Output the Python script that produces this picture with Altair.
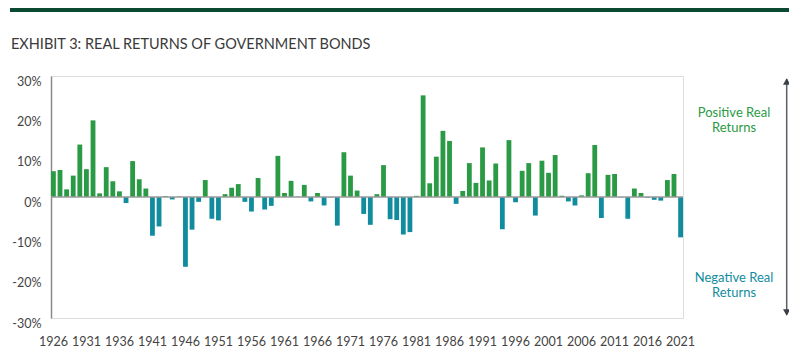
import altair as alt
import pandas as pd

years = list(range(1926, 2022))
returns = [
    6.4, 6.7, 1.9, 5.3, 13.0, 6.9, 19.0, 0.9, 7.4, 3.9,      # 1926-1935
    1.4, -1.5, 8.9, 4.4, 2.1, -9.6, -7.3, 0.2, -0.6, 0.1,    # 1936-1945
    -17.3, -8.1, -1.2, 4.2, -5.4, -5.8, 0.7, 2.3, 3.2, -1.2, # 1946-1955
    -3.6, 4.7, -3.1, -2.2, 10.2, 1.0, 4.0, 0.1, 3.0, -1.1,   # 1956-1965
    1.0, -2.1, -0.1, -7.1, 11.1, 5.3, 1.6, -4.2, -6.9, 0.7,  # 1966-1975
    7.9, -5.5, -5.7, -9.3, -8.7, 0.3, 25.2, 3.4, 10.0, 16.4, # 1976-1985
    13.9, -1.7, 1.5, 8.4, 3.5, 12.3, 4.1, 8.3, -8.0, 14.1,   # 1986-1995
    -1.3, 6.5, 8.4, -4.6, 9.0, 6.0, 10.4, 0.3, -1.1, -2.1,   # 1996-2005
    0.4, 5.9, 12.9, -5.2, 5.5, 5.7, -0.1, -5.4, 2.1, 1.0,    # 2006-2015
    -0.2, -0.7, -0.9, 4.2, 5.7, -10.0,                       # 2016-2021
]
label_years = list(range(1926, 2022, 5))
y_ticks = [-30, -20, -10, 0, 10, 20, 30]
title_text = "EXHIBIT 3: REAL RETURNS OF GOVERNMENT BONDS"
pos_text = ["Positive Real", "Returns"]
neg_text = ["Negative Real", "Returns"]

GREEN = "#2a9a44"
TEAL = "#118c9e"
FONT = "Lato"

df = pd.DataFrame({"year": years, "ret": returns})
df["sign"] = ["pos" if v >= 0 else "neg" for v in returns]

W, H = 632, 242

x_enc = alt.X(
    "year:O",
    scale=alt.Scale(paddingInner=0.27, paddingOuter=0),
    axis=alt.Axis(
        values=label_years, title=None, labelAngle=0, domain=False, ticks=False,
        labelPadding=17, labelFont=FONT, labelFontSize=12.5, labelColor="#444444",
    ),
)
y_scale = alt.Scale(domain=[-30, 30], nice=False)

bars = alt.Chart(df).mark_bar().encode(
    x=x_enc,
    y=alt.Y(
        "ret:Q",
        scale=y_scale,
        axis=alt.Axis(
            values=y_ticks, title=None, grid=False, ticks=False, domain=True,
            domainColor="#8a8a8a", domainWidth=1.5, labelPadding=10,
            labelOffset=5, labelFont=FONT, labelFontSize=12.5, labelColor="#444444",
            labelExpr="datum.value + '%'",
        ),
    ),
    y2=alt.datum(0),
    color=alt.Color(
        "sign:N",
        scale=alt.Scale(domain=["pos", "neg"], range=[GREEN, TEAL]),
        legend=None,
    ),
)

zero = alt.Chart(pd.DataFrame({"z": [0]})).mark_rule(
    color="#9a9a9a", strokeWidth=1.5
).encode(y=alt.Y("z:Q", scale=y_scale))

one = pd.DataFrame({"a": [0]})

top_rule = alt.Chart(one).mark_rule(color="#0b4a31", strokeWidth=4).encode(
    x=alt.value(-41), x2=alt.value(741), y=alt.value(-66)
)

title = alt.Chart(one).mark_text(
    text=title_text, align="left", baseline="middle", font=FONT,
    fontSize=14.5, color="#3a3a3a",
).encode(x=alt.value(-40), y=alt.value(-31))

arrow_line = alt.Chart(one).mark_rule(color="#5a5d63", strokeWidth=1.5).encode(
    x=alt.value(735.7), y=alt.value(3), y2=alt.value(239)
)
arrow_top = alt.Chart(one).mark_point(
    shape="triangle-up", filled=True, size=55, color="#3b3f48", opacity=1
).encode(x=alt.value(735.7), y=alt.value(5.5))
arrow_bot = alt.Chart(one).mark_point(
    shape="triangle-down", filled=True, size=55, color="#3b3f48", opacity=1
).encode(x=alt.value(735.7), y=alt.value(236.5))

pos_label = alt.Chart(one).mark_text(
    text=pos_text, align="center", baseline="alphabetic", font=FONT,
    fontSize=13, lineHeight=15.5, color=GREEN,
).encode(x=alt.value(683), y=alt.value(40.5))
neg_label = alt.Chart(one).mark_text(
    text=neg_text, align="center", baseline="alphabetic", font=FONT,
    fontSize=13, lineHeight=15.5, color=TEAL,
).encode(x=alt.value(683), y=alt.value(205.5))

chart = (
    alt.layer(bars, zero, top_rule, title, arrow_line, arrow_top, arrow_bot,
              pos_label, neg_label)
    .properties(
        width=W, height=H,
        padding={"left": 43, "top": 68, "right": 106, "bottom": 32},
        autosize=alt.AutoSizeParams(type="none"),
    )
    .configure_view(stroke=None)
    .configure(background="white")
)

chart.save("out.html", embed_options={"renderer": "svg", "actions": False})
